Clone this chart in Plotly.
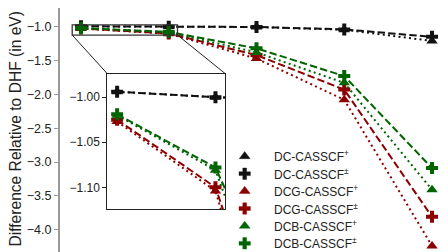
import plotly.graph_objects as go

# ---------------- data ----------------
x_vals = [1, 2, 3, 4, 5]
dc_plus = [-0.994, -1.000, -1.005, -1.045, -1.21]
dc_pm = [-0.994, -1.000, -1.004, -1.040, -1.15]
dcg_plus = [-1.027, -1.104, -1.47, -2.08, -4.24]
dcg_pm = [-1.025, -1.100, -1.42, -1.93, -3.81]
dcb_plus = [-1.020, -1.081, -1.38, -1.83, -3.41]
dcb_pm = [-1.019, -1.078, -1.32, -1.73, -3.09]

series_names = ["DC-CASSCF<sup>+</sup>", "DC-CASSCF<sup>±</sup>",
                "DCG-CASSCF<sup>+</sup>", "DCG-CASSCF<sup>±</sup>",
                "DCB-CASSCF<sup>+</sup>", "DCB-CASSCF<sup>±</sup>"]
series_values = [dc_plus, dc_pm, dcg_plus, dcg_pm, dcb_plus, dcb_pm]
main_ticks = [-1.0, -1.5, -2.0, -2.5, -3.0, -3.5, -4.0, -4.5]
inset_ticks = [-1.00, -1.05, -1.10]

# ---------------- styles ----------------
BLACK = "#111111"
RED = "#8B0000"
GREEN = "#006400"
colors = [BLACK, BLACK, RED, RED, GREEN, GREEN]
symbols = ["triangle-up", "cross"] * 3
sizes = [10, 10] * 3
dashes = ["2px,3.3px", "7.4px,3.2px"] * 3

W, H = 448, 252
L, R, T, B = 52, 3, 0, 0
PW, PH = W - L - R, H - T - B
FONT = "Liberation Sans, Arial, sans-serif"

x_range = [0.761, 5.239]
y_range = [-4.448, -0.7237]
ix_range = [0.9, 2.1]
iy_range = [-1.124, -0.974]
inset_px = (99.3, 217.3, 65.7, 201.0)  # left, right, top, bottom pixels
ix_dom = [(inset_px[0] - L) / PW, (inset_px[1] - L) / PW]
iy_dom = [(H - B - inset_px[3]) / PH, (H - B - inset_px[2]) / PH]

fig = go.Figure()

# main plot traces, drawn from the data through axes x/y and inset x2/y2
for axes in [("x", "y"), ("x2", "y2")]:
    for name, vals, c, s, sz, d in zip(series_names, series_values, colors,
                                        symbols, sizes, dashes):
        fig.add_trace(go.Scatter(
            x=x_vals, y=vals, mode="lines+markers", name=name,
            xaxis=axes[0], yaxis=axes[1], showlegend=False,
            line=dict(color=c, width=2, dash=d),
            marker=dict(symbol=s, size=sz, color=c, line=dict(width=0)),
            cliponaxis=True,
        ))

# manual legend on an overlay pixel axis
leg_x_marker = 236.7
leg_x_text = 264.0
leg_y0 = 148.3
leg_dy = 17.4
leg_y = [leg_y0 + i * leg_dy for i in range(len(series_names))]
for c, s, yy in zip(colors, symbols, leg_y):
    fig.add_trace(go.Scatter(
        x=[leg_x_marker], y=[yy], mode="markers",
        xaxis="x3", yaxis="y3", showlegend=False, hoverinfo="skip", opacity=1,
        marker=dict(symbol=s, size=9.5, color=c, opacity=1,
                    line=dict(width=0.4, color=c)),
    ))
annotations = []
for name, yy in zip(series_names, leg_y):
    annotations.append(dict(
        x=leg_x_text, y=yy, xref="x3", yref="y3", text=name, showarrow=False,
        xanchor="left", yanchor="middle", font=dict(size=12, color="#222", family=FONT),
    ))

# y-axis title
annotations.append(dict(
    x=(7.5 - L) / PW, y=(H - B - 121) / PH, xref="paper", yref="paper",
    text="Difference Relative to DHF (in eV)", textangle=-90, showarrow=False,
    xanchor="center", yanchor="middle", font=dict(size=15.6, color="#222", family=FONT),
))


def to_paper_x(v):
    return (v - x_range[0]) / (x_range[1] - x_range[0])


def to_paper_y(v):
    return (v - y_range[0]) / (y_range[1] - y_range[0])


shapes = [
    dict(type="rect", xref="x", yref="y", x0=ix_range[0], x1=ix_range[1],
         y0=iy_range[0], y1=iy_range[1], line=dict(color="#333", width=1.3),
         layer="above"),
    dict(type="line", xref="paper", yref="paper",
         x0=to_paper_x(ix_range[0]), y0=to_paper_y(iy_range[0]),
         x1=ix_dom[0], y1=iy_dom[1], line=dict(color="#222", width=1)),
    dict(type="line", xref="paper", yref="paper",
         x0=to_paper_x(ix_range[1]), y0=to_paper_y(iy_range[0]),
         x1=ix_dom[1], y1=iy_dom[1], line=dict(color="#222", width=1)),
]

fig.update_layout(
    width=W, height=H, margin=dict(l=L, r=R, t=T, b=B, pad=0),
    paper_bgcolor="white", plot_bgcolor="rgba(0,0,0,0)",
    font=dict(family=FONT, color="#222"),
    showlegend=False,
    xaxis=dict(range=x_range, showgrid=False, zeroline=False, showline=False,
               showticklabels=False, ticks=""),
    yaxis=dict(range=y_range, showgrid=False, zeroline=False, showline=True,
               linecolor="#9a9a9a", linewidth=2, mirror=True,
               tickvals=main_ticks, tickformat=".1f", ticks="outside",
               ticklen=4, tickwidth=1, tickcolor="#9a9a9a",
               tickfont=dict(size=12.5, color="#222", family=FONT)),
    xaxis2=dict(domain=ix_dom, anchor="y2", range=ix_range, showgrid=False,
                zeroline=False, showline=True, linecolor="#222", linewidth=1,
                mirror=True, showticklabels=False, ticks=""),
    yaxis2=dict(domain=iy_dom, anchor="x2", range=iy_range, showgrid=False,
                zeroline=False, showline=True, linecolor="#222", linewidth=1,
                mirror=True, tickvals=inset_ticks, tickformat=".2f",
                ticks="outside", ticklen=4, tickcolor="#222",
                tickfont=dict(size=12, color="#222", family=FONT)),
    xaxis3=dict(anchor="y3", overlaying="x", range=[L, W - R], visible=False),
    yaxis3=dict(anchor="x3", overlaying="y", range=[H - B, T], visible=False),
    annotations=annotations,
    shapes=shapes,
)

fig.write_html("out.html")
